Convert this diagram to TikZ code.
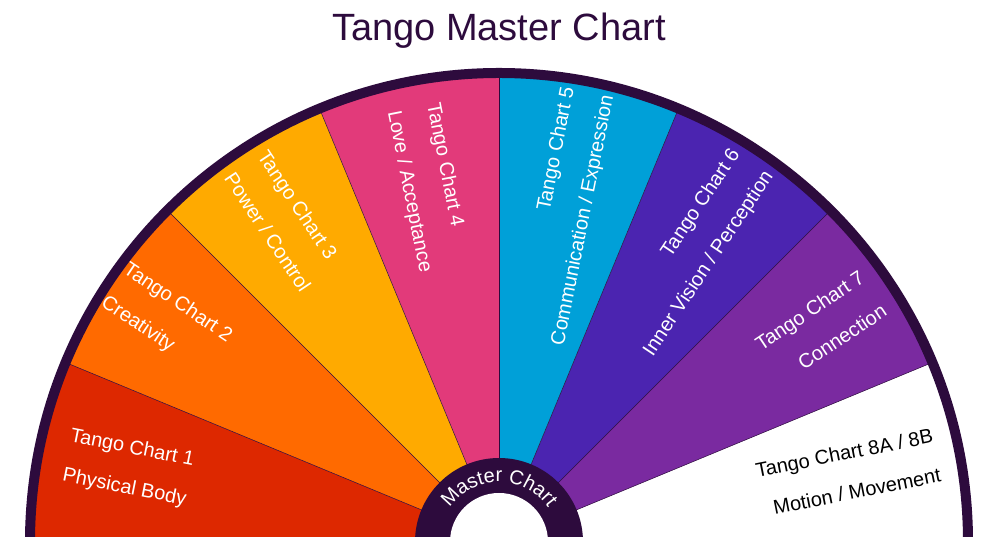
\documentclass[tikz,border=0pt]{standalone}
\usepackage{fontspec}
\setmainfont{Liberation Sans}
\usetikzlibrary{decorations.text,calc}
\definecolor{ringc}{HTML}{2D0B3D}
\definecolor{s1}{HTML}{DD2800}
\definecolor{s2}{HTML}{FF6A00}
\definecolor{s3}{HTML}{FFAA00}
\definecolor{s4}{HTML}{E23A7A}
\definecolor{s5}{HTML}{00A0D8}
\definecolor{s6}{HTML}{4B24B0}
\definecolor{s7}{HTML}{7A2AA0}
\definecolor{s8}{HTML}{FFFFFF}
\begin{document}
\begin{tikzpicture}[x=1pt,y=1pt,
  lab/.style={font=\fontsize{20}{40}\selectfont, text=white, inner sep=0pt},
  sect/.style={draw=ringc, line width=0.5pt}]
\useasboundingbox (0,0) rectangle (998,537);
\coordinate (C) at (499,-5);
\begin{scope}
\clip (0,0) rectangle (998,537);
\foreach \i/\c in {0/s8,1/s7,2/s6,3/s5,4/s4,5/s3,6/s2,7/s1}{
  \pgfmathsetmacro\a{\i*22.5}
  \pgfmathsetmacro\b{(\i+1)*22.5}
  \fill[\c] (C) -- ++(\a:466) arc (\a:\b:466) -- cycle;
  \draw[sect] (C) -- ++(\a:466);
}
\draw[ringc, line width=10pt] (C) ++(0:469) arc (0:180:469);
\fill[ringc] (C) circle (84);
\fill[white] (C) circle (49);
\path[decorate, decoration={text along path, text align=center,
  text={|\color{white}\fontsize{20}{20}\selectfont|Master Chart}}]
  (C) ++(165:60) arc (165:15:60);
\end{scope}
\node[font=\fontsize{38}{38}\selectfont, text=ringc] (title) at (499,506) {Tango Master Chart};
\node[lab, align=left, rotate=-11.25] (t1) at ($(C)+(168.75:378)$) {Tango Chart 1\\Physical Body};
\node[lab, align=left, rotate=-33.75] (t2) at ($(C)+(146.25:400)$) {Tango Chart 2\\Creativity};
\node[lab, align=left, rotate=-56.25] (t3) at ($(C)+(123.75:386)$) {Tango Chart 3\\Power / Control};
\node[lab, align=left, rotate=-78.75] (t4) at ($(C)+(101.25:361)$) {Tango Chart 4\\Love / Acceptance};
\node[lab, align=right, rotate=78.75] (t5) at ($(C)+(78.75:332)$) {Tango Chart 5\\Communication / Expression};
\node[lab, align=right, rotate=56.25] (t6) at ($(C)+(56.25:348)$) {Tango Chart 6\\Inner Vision / Perception};
\node[lab, align=right, rotate=33.75] (t7) at ($(C)+(33.75:387)$) {Tango Chart 7\\Connection};
\node[lab, align=right, rotate=11.25, text=black] (t8) at ($(C)+(11.25:356)$) {Tango Chart 8A / 8B\\Motion / Movement};
\end{tikzpicture}
\end{document}
